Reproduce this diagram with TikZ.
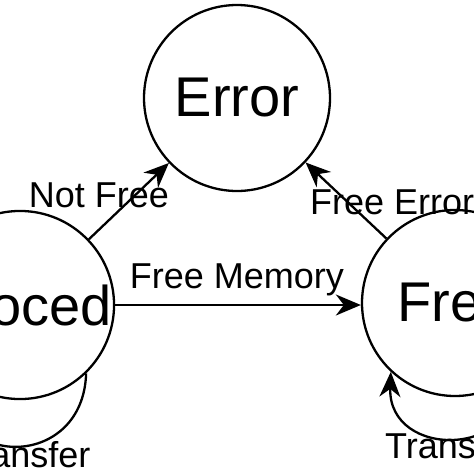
\documentclass[tikz,border=0pt]{standalone}
\usepackage{fontspec}
\setmainfont{Liberation Sans}
\usetikzlibrary{arrows.meta}
\begin{document}
\begin{tikzpicture}[x=1pt,y=-1pt,
  state/.style={circle,draw,line width=2.3pt,minimum size=186pt,inner sep=0pt,font=\fontsize{56}{60}\selectfont},
  lbl/.style={font=\fontsize{36}{40}\selectfont,inner sep=0pt,anchor=base},
  edge/.style={line width=2.3pt,-{Stealth[length=25pt,width=21pt,inset=8pt]}}]
\useasboundingbox (0,0) rectangle (474,474);
\clip (0,0) rectangle (474,474);
\fill[white] (0,0) rectangle (474,474);
\node[state] (err) at (237,98) {Error};
\node[state] (al) at (20,305) {Alloced};
\node[state] (fr) at (455,303) {Free};
\draw[edge] (al) -- (err);
\draw[edge] (fr) -- (err);
\draw[edge] (al.east) -- (fr.west |- al.east);
\draw[edge] (al.-46) .. controls +(-3,95) and +(3,95) .. (al.-134);
\draw[edge] (fr.-47) .. controls +(3,88) and +(-3,88) .. (fr.-133);
\node[lbl] (l1) at (99,207) {Not Free};
\node[lbl] (l2) at (237,288) {Free Memory};
\node[lbl,anchor=base west] (l3) at (310,214) {Free Error};
\node[lbl] (l4) at (24,467) {Transfer};
\node[lbl,anchor=base west] (l5) at (385,458) {Transfer};
\end{tikzpicture}
\end{document}
